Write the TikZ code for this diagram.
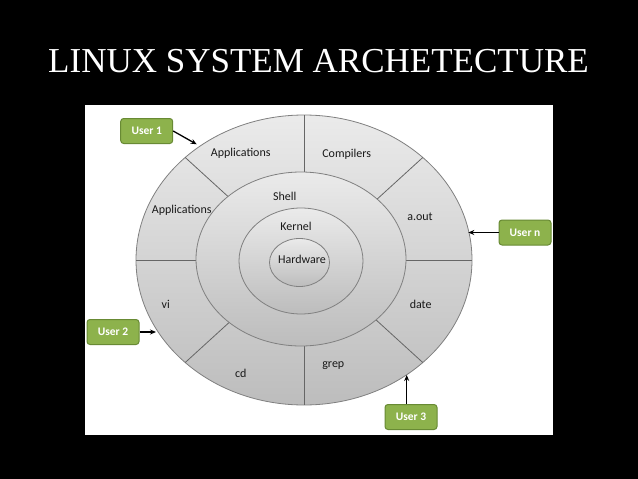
\documentclass[tikz,border=0pt]{standalone}
\usepackage{fontspec}
\setmainfont{Carlito}
\newfontfamily\titlefont{Liberation Serif}
\usetikzlibrary{arrows.meta}
\definecolor{userfill}{RGB}{141,178,76}
\definecolor{userline}{RGB}{104,138,52}
\definecolor{ringline}{RGB}{128,128,128}
\begin{document}
\begin{tikzpicture}[x=1pt,y=-1pt,
  ring/.style={draw=ringline,line width=0.8pt,top color=black!8,bottom color=black!26},
  divider/.style={draw=black!60,line width=0.8pt},
  lbl/.style={font=\fontsize{12}{14}\selectfont,text=black!90},
  userbox/.style={draw=userline,line width=1pt,fill=userfill,rounded corners=3pt,
    minimum width=52pt,minimum height=25pt,text=white,font=\bfseries\fontsize{11.5}{13}\selectfont},
  userarrow/.style={line width=1.3pt,-{Stealth[length=6pt,width=5pt]}}]

\fill[black] (0,0) rectangle (638,479);
\useasboundingbox (0,0) rectangle (638,479);
\fill[white] (85,105) rectangle (553,435);
\node[anchor=base,text=white,inner sep=0pt,font=\titlefont\fontsize{35}{40}\selectfont] (title) at (318.5,72) {LINUX SYSTEM ARCHETECTURE};

% rings
\coordinate (c) at (304,260);
\draw[ring] (c) ellipse (168 and 145);
\foreach \a in {0,45,...,315}
  \draw[divider] ([shift={(\a:100 and 83)}]c) -- ([shift={(\a:168 and 145)}]c);
\draw[ring] (301,259) ellipse (105 and 87);
\draw[ring] (301,261) ellipse (62 and 53);
\draw[ring] (299.5,262.5) ellipse (30 and 24);

% outer ring labels
\node[lbl] (apps1) at (240.7,153.3) {Applications};
\node[lbl] (comp) at (346.7,154) {Compilers};
\node[lbl] (apps2) at (181.7,210) {Applications};
\node[lbl] (aout) at (420,216.7) {a.out};
\node[lbl] (vi) at (165.7,304.7) {vi};
\node[lbl] (date) at (420.7,304.7) {date};
\node[lbl] (cd) at (240.7,373.3) {cd};
\node[lbl] (grep) at (333.3,366) {grep};
\node[lbl] (shell) at (284.7,196.7) {Shell};
\node[lbl] (kernel) at (296,226) {Kernel};
\node[lbl] (hw) at (302,259) {Hardware};

% users
\node[userbox] (user1) at (146.7,131) {User 1};
\node[userbox] (usern) at (525,232.5) {User n};
\node[userbox] (user2) at (113,332) {User 2};
\node[userbox] (user3) at (411,417) {User 3};

\coordinate (u1tip) at (196.7,144.3);
\coordinate (untip) at (468.3,232.5);
\coordinate (u2tip) at (156,332);
\coordinate (u3tip) at (406.7,375);

\draw[userarrow] (user1.east) -- (u1tip);
\draw[userarrow] (usern.west) -- (untip);
\draw[userarrow] (user2.east) -- (u2tip);
\draw[userarrow] ([xshift=-4.3]user3.north) -- (u3tip);
\end{tikzpicture}
\end{document}
